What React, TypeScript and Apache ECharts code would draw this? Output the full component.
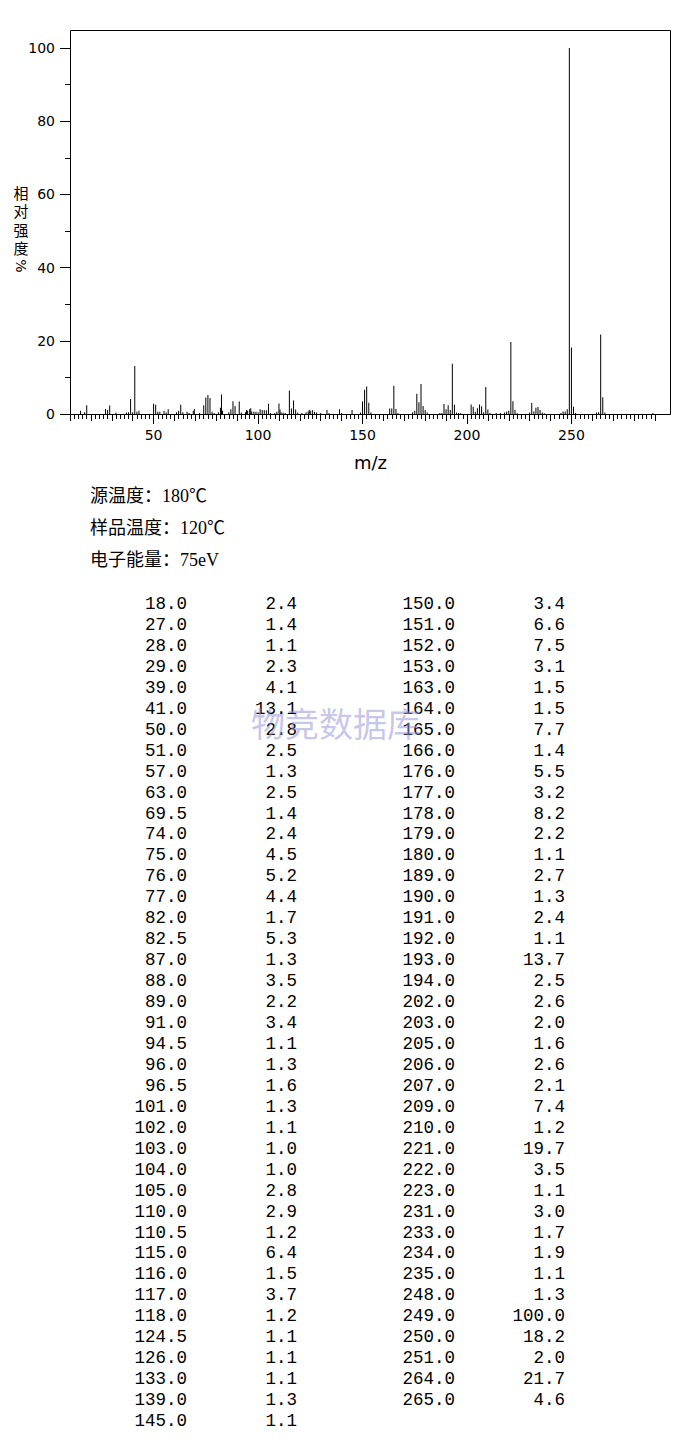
import React, { useEffect, useRef } from "react";
import * as echarts from "echarts";

// Peak table (m/z, relative intensity %)
const peakMz = [
  18.0, 27.0, 28.0, 29.0, 39.0, 41.0, 50.0, 51.0, 57.0, 63.0, 69.5, 74.0, 75.0, 76.0, 77.0, 82.0, 82.5, 87.0, 88.0, 89.0,
  91.0, 94.5, 96.0, 96.5, 101.0, 102.0, 103.0, 104.0, 105.0, 110.0, 110.5, 115.0, 116.0, 117.0, 118.0, 124.5, 126.0, 133.0, 139.0, 145.0,
  150.0, 151.0, 152.0, 153.0, 163.0, 164.0, 165.0, 166.0, 176.0, 177.0, 178.0, 179.0, 180.0, 189.0, 190.0, 191.0, 192.0, 193.0, 194.0,
  202.0, 203.0, 205.0, 206.0, 207.0, 209.0, 210.0, 221.0, 222.0, 223.0, 231.0, 233.0, 234.0, 235.0, 248.0, 249.0, 250.0, 251.0, 264.0, 265.0,
];
const peakIntensity = [
  2.4, 1.4, 1.1, 2.3, 4.1, 13.1, 2.8, 2.5, 1.3, 2.5, 1.4, 2.4, 4.5, 5.2, 4.4, 1.7, 5.3, 1.3, 3.5, 2.2,
  3.4, 1.1, 1.3, 1.6, 1.3, 1.1, 1.0, 1.0, 2.8, 2.9, 1.2, 6.4, 1.5, 3.7, 1.2, 1.1, 1.1, 1.1, 1.3, 1.1,
  3.4, 6.6, 7.5, 3.1, 1.5, 1.5, 7.7, 1.4, 5.5, 3.2, 8.2, 2.2, 1.1, 2.7, 1.3, 2.4, 1.1, 13.7, 2.5,
  2.6, 2.0, 1.6, 2.6, 2.1, 7.4, 1.2, 19.7, 3.5, 1.1, 3.0, 1.7, 1.9, 1.1, 1.3, 100.0, 18.2, 2.0, 21.7, 4.6,
];
const leftColumnRows = 40;

// Small peaks (< 1 %)
const minorPeakMz = [
  15, 17, 32, 37, 38, 40, 42, 43, 52, 53, 55, 56, 61, 62, 64, 66, 67, 69, 72, 78, 79, 81, 83, 86, 92, 94, 95, 97, 98, 99, 100,
  106, 108, 109, 111, 112, 113, 119, 121, 123, 124, 125, 127, 128, 130, 134, 140, 149, 154, 167, 174, 175, 181, 187, 188,
  195, 196, 197, 204, 208, 211, 214, 216, 218, 219, 220, 224, 230, 232, 236, 237, 245, 246, 247, 252, 262, 263, 266, 289,
];
const minorPeakIntensity = [
  0.9, 0.5, 0.4, 0.4, 0.5, 0.5, 0.6, 0.9, 0.6, 0.6, 0.8, 0.4, 0.5, 0.9, 0.5, 0.6, 0.3, 0.8, 0.3, 0.6, 0.3, 0.5, 0.9, 0.5, 0.4, 0.5, 0.9, 0.7, 0.6, 0.6, 0.5,
  0.3, 0.3, 0.6, 0.5, 0.4, 0.3, 0.4, 0.3, 0.5, 0.7, 0.9, 0.6, 0.4, 0.3, 0.3, 0.3, 0.4, 0.4, 0.3, 0.5, 0.9, 0.4, 0.3, 0.3,
  0.4, 0.3, 0.3, 0.6, 0.5, 0.3, 0.3, 0.3, 0.4, 0.7, 0.9, 0.3, 0.4, 0.7, 0.4, 0.2, 0.3, 0.7, 0.7, 0.3, 0.4, 0.5, 0.4, 0.3,
];

const xMajorTicks = [50, 100, 150, 200, 250];
const yAxisNameChars = ["相", "对", "强", "度"];
const conditions = ["源温度：180℃", "样品温度：120℃", "电子能量：75eV"];
const xAxisTitle = "m/z";
const watermark = "物竞数据库";

export default function App() {
  const ref = useRef<HTMLDivElement>(null);

  useEffect(() => {
    if (!ref.current) return;
    const chart = echarts.init(ref.current, null, { renderer: "svg" });

    const all: [number, number][] = [];
    peakMz.forEach((m, i) => all.push([m, peakIntensity[i]]));
    minorPeakMz.forEach((m, i) => all.push([m, minorPeakIntensity[i]]));
    all.sort((a, b) => a[0] - b[0]);

    const graphics: any[] = [];
    // frame
    graphics.push({
      type: "rect",
      shape: { x: 70.5, y: 30.5, width: 600, height: 384 },
      style: { fill: "none", stroke: "#000", lineWidth: 1 },
      silent: true,
      z: 10,
    });
    // y axis name
    yAxisNameChars.forEach((c, i) => {
      graphics.push({
        type: "text",
        x: 21,
        y: 192 + i * 18.5,
        style: { text: c, fontSize: 15, lineHeight: 16, fontFamily: "Noto Sans CJK SC", fill: "#000", align: "center", verticalAlign: "middle" },
      });
    });
    graphics.push({
      type: "text",
      x: 21,
      y: 266,
      rotation: -Math.PI / 2,
      style: { text: "%", fontSize: 14, lineHeight: 15, fontFamily: "DejaVu Sans", fill: "#000", align: "center", verticalAlign: "middle" },
    });
    // x axis title
    graphics.push({
      type: "text",
      x: 370.5,
      y: 462,
      style: { text: xAxisTitle, fontSize: 18, fontFamily: "DejaVu Sans", fill: "#000", align: "center", verticalAlign: "middle" },
    });
    // conditions
    conditions.forEach((t, i) => {
      graphics.push({
        type: "text",
        x: 90,
        y: 496 + i * 32,
        style: { text: t, fontSize: 18, fontFamily: "Liberation Serif, Noto Sans CJK SC", fill: "#000", align: "left", verticalAlign: "middle" },
      });
    });
    // table
    const rowFont = { fontSize: 17.5, fontFamily: "Liberation Mono", fill: "#000", align: "right", verticalAlign: "middle" };
    peakMz.forEach((m, i) => {
      const left = i < leftColumnRows;
      const row = left ? i : i - leftColumnRows;
      const y = 604 + row * 20.95;
      graphics.push({ type: "text", x: left ? 187 : 455, y, style: { ...rowFont, text: m.toFixed(1) } });
      graphics.push({ type: "text", x: left ? 297 : 565, y, style: { ...rowFont, text: peakIntensity[i].toFixed(1) } });
    });
    // watermark
    graphics.push({
      type: "text",
      x: 336,
      y: 722,
      z: 20,
      style: { text: watermark, fontSize: 34, fontFamily: "Noto Sans CJK SC", fill: "rgba(150,150,215,0.55)", align: "center", verticalAlign: "middle" },
    });

    const axisLine = { show: true, lineStyle: { color: "#000", width: 1 } };
    chart.setOption({
      animation: false,
      backgroundColor: "#fff",
      grid: { left: 70, right: 41, top: 48, bottom: 1032, containLabel: false },
      xAxis: [
        {
          type: "value",
          position: "bottom",
          min: 10,
          max: 290,
          interval: 10,
          axisLine,
          axisTick: { show: true, length: 10, customValues: xMajorTicks, lineStyle: { color: "#000" } },
          axisLabel: { show: true, customValues: xMajorTicks, fontSize: 14, fontFamily: "DejaVu Sans", color: "#000", margin: 14 },
          splitLine: { show: false },
        },
        {
          type: "value",
          position: "bottom",
          min: 10,
          max: 290,
          interval: 10,
          axisLine: { show: false },
          axisTick: { show: true, length: 7, lineStyle: { color: "#000" } },
          minorTick: { show: true, splitNumber: 5, length: 5, lineStyle: { color: "#000" } },
          axisLabel: { show: false },
          splitLine: { show: false },
        },
      ],
      yAxis: {
        type: "value",
        min: 0,
        max: 100,
        interval: 20,
        axisLine,
        axisTick: { show: true, length: 10, lineStyle: { color: "#000" } },
        minorTick: { show: true, splitNumber: 2, length: 5, lineStyle: { color: "#000" } },
        axisLabel: { fontSize: 14, fontFamily: "DejaVu Sans", color: "#000", margin: 15 },
        splitLine: { show: false },
      },
      series: [
        {
          type: "bar",
          xAxisIndex: 0,
          data: all,
          barWidth: 1,
          itemStyle: { color: "#000" },
          silent: true,
        },
      ],
      graphic: graphics,
    });

    return () => chart.dispose();
  }, []);

  return (
    <div
      ref={ref}
      style={{ position: "absolute", left: 0, top: 0, width: 696, height: 1446, background: "#fff" }}
    />
  );
}
